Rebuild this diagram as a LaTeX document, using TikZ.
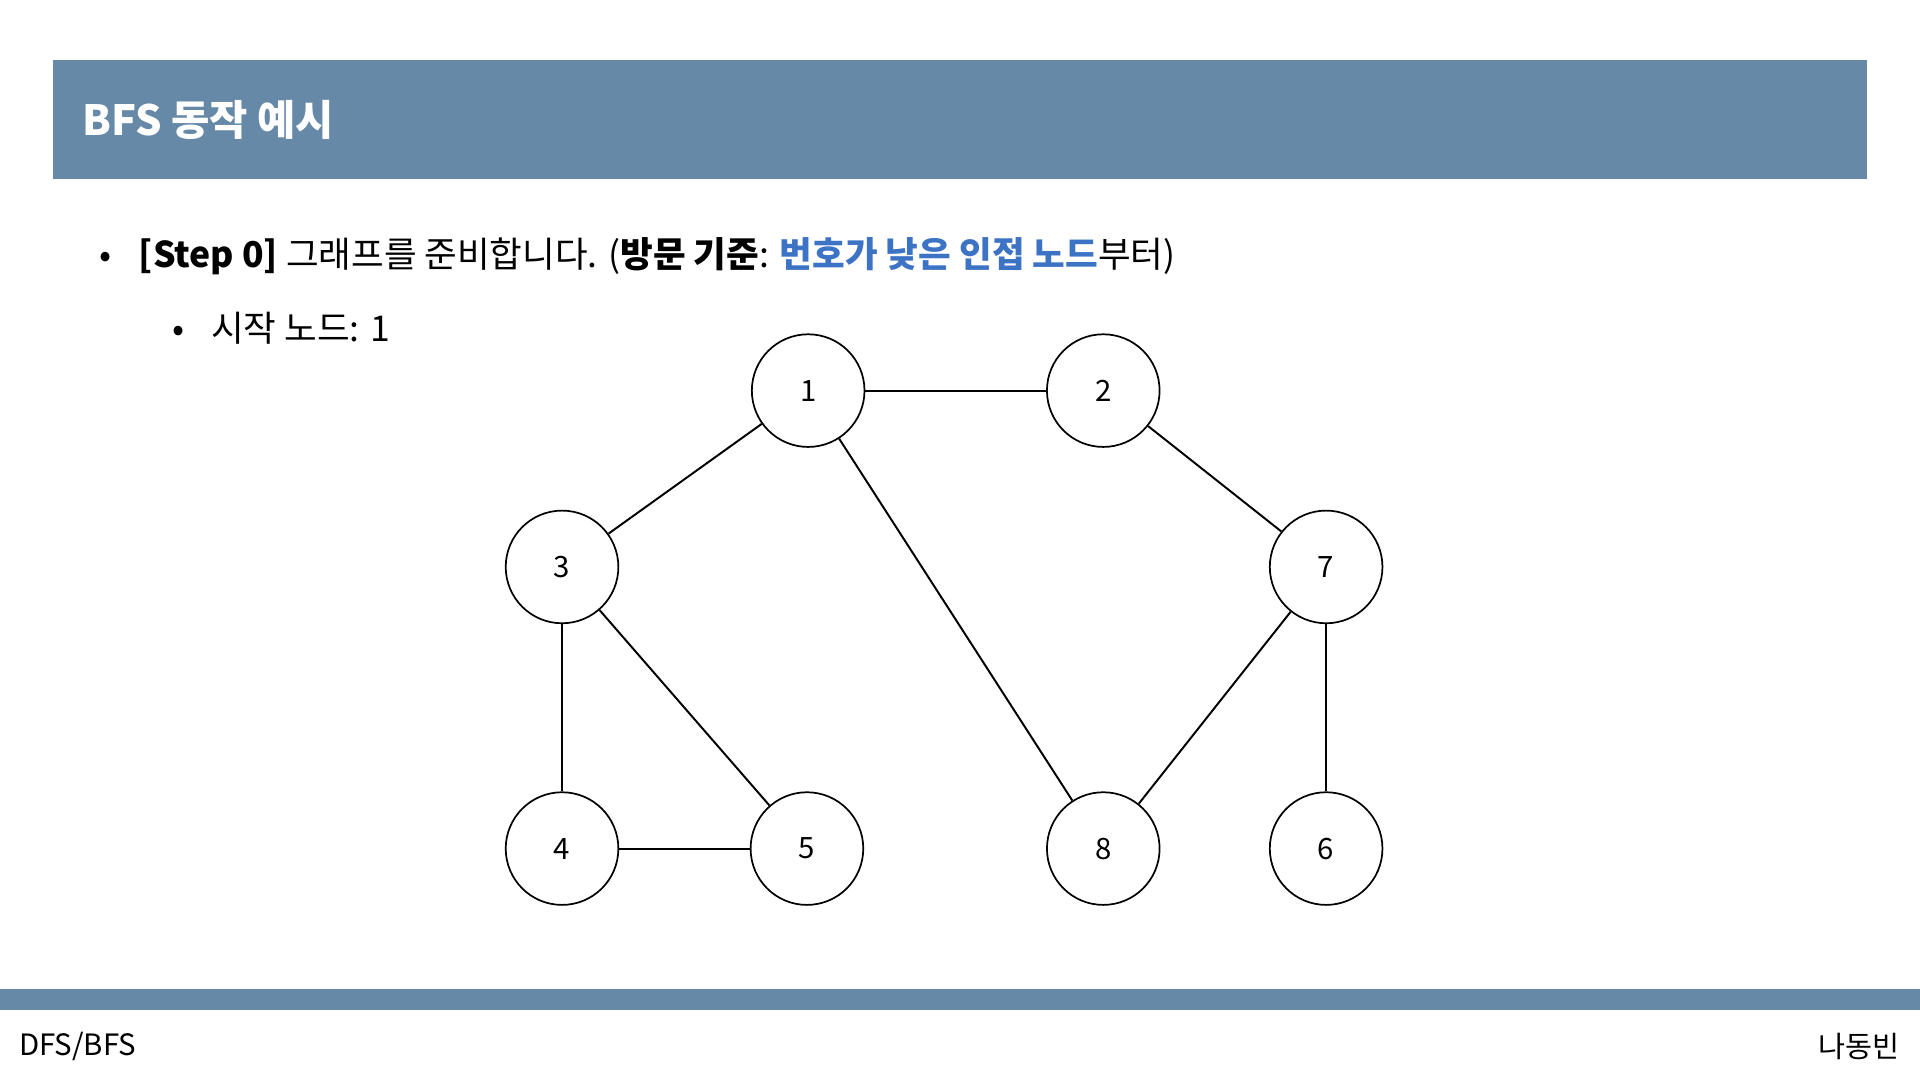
\documentclass[tikz,border=0pt]{standalone}
\usepackage{fontspec}
\setmainfont{Noto Sans CJK KR}
\definecolor{bar}{HTML}{6689A8}
\definecolor{hl}{HTML}{3D73C4}
\begin{document}
\begin{tikzpicture}[x=1pt,y=-1pt,
  vtx/.style={circle,draw,line width=1.4pt,minimum size=92pt,inner sep=0pt,font=\fontsize{24}{26}\selectfont},
  edge/.style={line width=1.6pt}]
\useasboundingbox (0,0) rectangle (1568,882);
\fill[white] (0,0) rectangle (1568,882);
\fill[bar] (43,49) rectangle (1525,146);
\node[anchor=west,text=white,font=\fontsize{34}{36}\selectfont\bfseries] (title) at (64,98) {BFS 동작 예시};
\node[anchor=west,font=\fontsize{29}{32}\selectfont] (b1) at (78,209) {•\hspace{22pt}\textbf{[Step 0]} 그래프를 준비합니다. (\textbf{방문 기준}: \textcolor{hl}{\textbf{번호가 낮은 인접 노드}}부터)};
\node[anchor=west,font=\fontsize{29}{32}\selectfont] (b2) at (137,268) {•\hspace{22pt}시작 노드: 1};
\node[vtx] (n1) at (660,319) {1};
\node[vtx] (n2) at (901,319) {2};
\node[vtx] (n3) at (459,463) {3};
\node[vtx] (n7) at (1083,463) {7};
\node[vtx] (n4) at (459,693) {4};
\node[vtx] (n5) at (659,693) {5};
\node[vtx] (n8) at (901,693) {8};
\node[vtx] (n6) at (1083,693) {6};
\draw[edge] (n1)--(n2);
\draw[edge] (n1)--(n3);
\draw[edge] (n1)--(n8);
\draw[edge] (n2)--(n7);
\draw[edge] (n3)--(n4);
\draw[edge] (n3)--(n5);
\draw[edge] (n4)--(n5);
\draw[edge] (n7)--(n8);
\draw[edge] (n7)--(n6);
\fill[bar] (0,808) rectangle (1568,825);
\node[anchor=west,font=\fontsize{24}{26}\selectfont] (f1) at (12,855) {DFS/BFS};
\node[anchor=east,font=\fontsize{24}{26}\selectfont] (f2) at (1555,855) {나동빈};
\end{tikzpicture}
\end{document}
